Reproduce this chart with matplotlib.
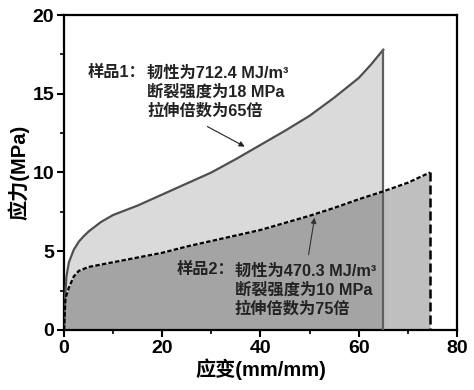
import matplotlib
matplotlib.use("Agg")
import matplotlib.pyplot as plt
import numpy as np
from matplotlib.ticker import MultipleLocator

# Sample 1 (solid curve)
x1 = [0, 0.2, 0.5, 1, 2, 3, 4, 5, 7.5, 10, 12.5, 15, 20, 25, 30, 35, 40, 45, 50, 55, 60, 62.5, 65]
y1 = [0, 2.0, 3.4, 4.3, 5.1, 5.6, 5.95, 6.25, 6.85, 7.3, 7.6, 7.9, 8.6, 9.3, 10.0, 10.85, 11.75, 12.65, 13.6, 14.75, 16.0, 16.85, 17.8]
# Sample 2 (dashed curve)
x2 = [0, 0.3, 1, 2, 3, 5, 7.5, 10, 15, 20, 25, 30, 35, 40, 45, 50, 55, 60, 65, 70, 74.5]
y2 = [0, 2.0, 2.7, 3.4, 3.75, 4.0, 4.15, 4.3, 4.6, 4.9, 5.3, 5.65, 6.0, 6.35, 6.8, 7.25, 7.75, 8.3, 8.8, 9.35, 10.0]

xlabel = "应变(mm/mm)"
ylabel = "应力(MPa)"
label1_head = "样品1："
label1_body = "韧性为712.4 MJ/m³\n断裂强度为18 MPa\n拉伸倍数为65倍"
label2_head = "样品2："
label2_body = "韧性为470.3 MJ/m³\n断裂强度为10 MPa\n拉伸倍数为75倍"

FAM = ['Liberation Sans', 'Noto Sans CJK SC']
plt.rcParams['font.family'] = FAM
plt.rcParams['font.weight'] = 'bold'

fig = plt.figure(figsize=(4.74, 3.90), dpi=100)
ax = fig.add_axes([0.135, 0.154, 0.829, 0.8075])

x1a, y1a = np.array(x1), np.array(y1)
x2a, y2a = np.array(x2), np.array(y2)
split = x1[-1]

ax.fill_between(x1a, 0, y1a, color='#dadada', lw=0, zorder=1)
ax.fill_between(x2a, 0, y2a, where=x2a <= split, color='#a4a4a4', lw=0, zorder=2)
ax.fill_between(x2a, 0, y2a, where=x2a >= split, color='#bfbfbf', lw=0, zorder=2)

ax.plot(x1a, y1a, color='#4f4f4f', lw=1.6, zorder=4)
ax.plot([x1a[-1], x1a[-1]], [y1a[-1], 0], color='#5f5f5f', lw=1.6, zorder=4)
ax.plot(x2a, y2a, color='black', lw=1.6, dashes=(2.0, 1.0), zorder=5)
ax.plot([x2a[-1], x2a[-1]], [y2a[-1], 0], color='black', lw=1.8, dashes=(3.6, 1.6), zorder=5)

ax.set_xlim(0, 80)
ax.set_ylim(0, 20)
ax.xaxis.set_major_locator(MultipleLocator(20))
ax.xaxis.set_minor_locator(MultipleLocator(10))
ax.yaxis.set_major_locator(MultipleLocator(5))
ax.yaxis.set_minor_locator(MultipleLocator(2.5))
ax.tick_params(which='major', direction='out', length=5, width=1.5, labelsize=14, pad=2)
ax.tick_params(which='minor', direction='out', length=3, width=1.2)
for lab in ax.get_xticklabels() + ax.get_yticklabels():
    lab.set_fontweight('bold')
for sp in ax.spines.values():
    sp.set_linewidth(1.6)

ax.set_xlabel(xlabel, fontsize=14.5, fontweight='bold', labelpad=1)
ax.set_ylabel(ylabel, fontsize=14.5, fontweight='bold', labelpad=2)

tkw = dict(fontsize=11.7, fontweight='bold', linespacing=1.26, zorder=6)
ax.text(4.9, 16.38, label1_head, ha='left', va='center', color='#222222', **tkw)
ax.text(16.9, 15.08, label1_body, ha='left', va='center', color='#222222', **tkw)
ax.text(23.0, 3.81, label2_head, ha='left', va='center', color='#222222', **tkw)
ax.text(34.8, 2.54, label2_body, ha='left', va='center', color='#222222', **tkw)

ax.annotate('', xy=(37.3, 11.56), xytext=(28.7, 13.0),
            arrowprops=dict(arrowstyle='-|>', color='#222222', lw=0.8, mutation_scale=8), zorder=6)
ax.annotate('', xy=(51.1, 7.3), xytext=(49.7, 4.6),
            arrowprops=dict(arrowstyle='-|>', color='#333333', lw=0.8, mutation_scale=8), zorder=6)

fig.savefig('out.png', dpi=100)
